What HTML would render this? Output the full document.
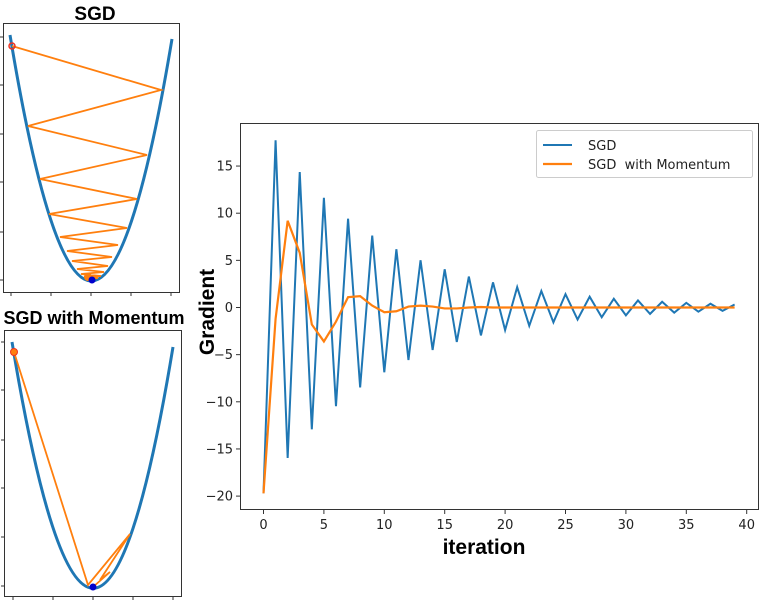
<!DOCTYPE html>
<html><head><meta charset="utf-8"><style>
html,body{margin:0;padding:0;background:#fff;}
svg text{font-family:"DejaVu Sans","Liberation Sans",sans-serif;}
.t{font-family:"Liberation Sans Narrow","Liberation Sans",sans-serif;font-weight:bold;}
</style></head><body>
<svg id="s" width="768" height="601" viewBox="0 0 768 601" xmlns="http://www.w3.org/2000/svg">
<rect width="768" height="601" fill="#fff"/>
<!-- top-left panel -->
<text class="t" x="95" y="20" font-size="19" text-anchor="middle">SGD</text>
<rect x="3.5" y="23.5" width="176" height="269" fill="none" stroke="#333" stroke-width="1"/>
<g stroke="#333" stroke-width="1">
<line x1="0" y1="37" x2="3" y2="37"/><line x1="0" y1="85" x2="3" y2="85"/><line x1="0" y1="134" x2="3" y2="134"/><line x1="0" y1="182" x2="3" y2="182"/><line x1="0" y1="232" x2="3" y2="232"/><line x1="0" y1="280" x2="3" y2="280"/>
<line x1="11" y1="293" x2="11" y2="296"/><line x1="51" y1="293" x2="51" y2="296"/><line x1="91" y1="293" x2="91" y2="296"/><line x1="131" y1="293" x2="131" y2="296"/><line x1="171" y1="293" x2="171" y2="296"/>
</g>
<path d="M10 35 Q 91 525 172 39" fill="none" stroke="#1f77b4" stroke-width="3"/>
<polyline fill="none" stroke="#ff7f0e" stroke-width="1.8" points="12,46 161,90 28,126 147,155 40,179 137,199 49,214 127,228 60,237 118,245 67,251 112,257 72,261 108,266 77,269 104,272 81,274 101,276 84,277 98,278 88,279 95,280 92,280"/>
<circle cx="88" cy="277" r="4" fill="#ff7f0e"/>
<circle cx="12" cy="46" r="3" fill="none" stroke="#e32" stroke-width="1.5"/>
<circle cx="92" cy="280" r="3.5" fill="#00c"/>

<!-- bottom-left panel -->
<text class="t" x="94" y="324" font-size="18" text-anchor="middle">SGD with Momentum</text>
<rect x="4.5" y="330.5" width="177" height="266" fill="none" stroke="#333" stroke-width="1"/>
<g stroke="#333" stroke-width="1">
<line x1="1" y1="342" x2="4" y2="342"/><line x1="1" y1="390" x2="4" y2="390"/><line x1="1" y1="440" x2="4" y2="440"/><line x1="1" y1="488" x2="4" y2="488"/><line x1="1" y1="537" x2="4" y2="537"/><line x1="1" y1="586" x2="4" y2="586"/>
<line x1="13" y1="597" x2="13" y2="600"/><line x1="53" y1="597" x2="53" y2="600"/><line x1="93" y1="597" x2="93" y2="600"/><line x1="133" y1="597" x2="133" y2="600"/><line x1="173" y1="597" x2="173" y2="600"/>
</g>
<path d="M12 342 Q 93 832 173 347" fill="none" stroke="#1f77b4" stroke-width="3"/>
<polyline fill="none" stroke="#ff7f0e" stroke-width="1.8" points="14,352 88,585 130,534 100,580 110,572 93,587"/>
<circle cx="14" cy="352" r="3.5" fill="#ff7f0e" stroke="#e32" stroke-width="1"/>
<circle cx="93" cy="587" r="3.5" fill="#00c"/>

<!-- main chart -->
<rect x="240.5" y="123.5" width="518" height="386" fill="none" stroke="#333" stroke-width="1"/>
<g id="ticks" stroke="#333" stroke-width="1"></g>
<g id="labels" font-size="13" fill="#222"></g>
<polyline id="sgd" fill="none" stroke="#1f77b4" stroke-width="2"/>
<polyline id="mom" fill="none" stroke="#ff7f0e" stroke-width="2.2"/>
<text class="t" x="484" y="554" font-size="21" text-anchor="middle">iteration</text>
<text class="t" x="0" y="0" font-size="21" text-anchor="middle" transform="translate(214,312) rotate(-90)">Gradient</text>
<rect x="536.5" y="130.5" width="216" height="47" rx="2" fill="#fff" stroke="#ccc"/>
<line x1="543" y1="145" x2="572" y2="145" stroke="#1f77b4" stroke-width="2"/>
<line x1="543" y1="164" x2="572" y2="164" stroke="#ff7f0e" stroke-width="2.2"/>
<text x="588" y="150" font-size="13" fill="#222">SGD</text>
<text x="588" y="169" font-size="13" fill="#222" xml:space="preserve">SGD  with Momentum</text>
</svg>
<script>
var X=function(i){return 263.5+i*12.08;},Y=function(v){return 307.5-v*9.43;};
var t=document.getElementById('ticks'),l=document.getElementById('labels'),ns='http://www.w3.org/2000/svg';
function el(p,n,a,txt){var e=document.createElementNS(ns,n);for(var k in a)e.setAttribute(k,a[k]);if(txt!=null)e.textContent=txt;p.appendChild(e);}
for(var v=-20;v<=15;v+=5){var y=Y(v);el(t,'line',{x1:236,x2:240,y1:y,y2:y});el(l,'text',{x:233,y:y+4.5,'text-anchor':'end'},(v<0?'\u2212'+(-v):''+v));}
for(var i=0;i<=40;i+=5){var x=X(i);el(t,'line',{x1:x,x2:x,y1:510,y2:514});el(l,'text',{x:x,y:529,'text-anchor':'middle'},''+i);}
var p=[];for(var n=0;n<40;n++){p.push(X(n)+','+Y(-19.7*Math.pow(-0.9,n)));}
document.getElementById('sgd').setAttribute('points',p.join(' '));
var m=[-19.7,-1.2,9.2,5.8,-1.8,-3.6,-1.5,1.1,1.2,0.2,-0.5,-0.4,0.1,0.2,0.1,-0.1,-0.1,0,0.05,0];
var q=[];for(var n=0;n<40;n++){q.push(X(n)+','+Y(n<m.length?m[n]:0));}
document.getElementById('mom').setAttribute('points',q.join(' '));
</script>
</body></html>
